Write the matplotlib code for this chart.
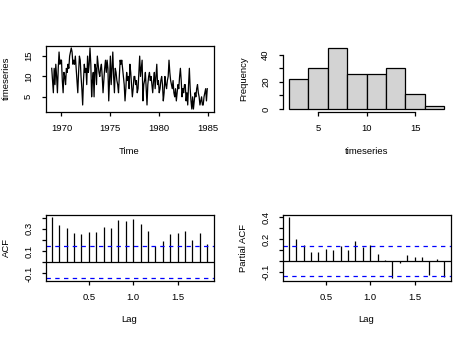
import matplotlib
matplotlib.use("Agg")
import matplotlib.pyplot as plt
import numpy as np

plt.rcParams['font.family'] = ['Liberation Sans', 'DejaVu Sans']
plt.rcParams['font.size'] = 6.8

# monthly series, Jan 1969 - Dec 1984
timeseries = [
    12, 9, 6, 12, 8, 13, 10, 6, 12, 16, 13, 14,
    14, 9, 6, 11, 10, 8, 12, 11, 13, 12, 15, 16,
    17, 16, 13, 14, 13, 15, 12, 9, 6, 11, 15, 14,
    10, 7, 3, 9, 13, 11, 12, 8, 15, 11, 13, 17,
    13, 5, 9, 11, 5, 13, 12, 8, 15, 13, 11, 10,
    12, 13, 10, 6, 9, 12, 14, 11, 14, 12, 4, 9,
    15, 8, 12, 16, 10, 6, 12, 11, 9, 8, 6, 10,
    14, 13, 14, 12, 10, 8, 4, 7, 11, 9, 10, 7,
    13, 11, 8, 5, 7, 10, 10, 8, 9, 6, 7, 11,
    15, 10, 12, 14, 4, 8, 9, 11, 7, 3, 8, 10,
    11, 9, 10, 8, 6, 9, 11, 7, 10, 13, 8, 9,
    6, 7, 9, 10, 8, 4, 6, 10, 8, 7, 9, 10,
    14, 11, 9, 8, 7, 9, 6, 5, 7, 4, 6, 8,
    7, 10, 12, 9, 5, 7, 6, 8, 8, 4, 6, 3,
    8, 12, 7, 4, 2, 5, 2, 4, 6, 5, 7, 8,
    6, 5, 3, 4, 5, 3, 3, 5, 6, 7, 4, 7,
]
start_year = 1969

hist_edges = [2, 4, 6, 8, 10, 12, 14, 16, 18]
hist_counts = [22, 30, 45, 26, 26, 30, 11, 2]

acf_vals = [0.405, 0.332, 0.303, 0.261, 0.249, 0.270, 0.273, 0.315, 0.306, 0.377, 0.371,
            0.383, 0.338, 0.282, 0.148, 0.193, 0.249, 0.261, 0.279, 0.199, 0.261, 0.163]
pacf_vals = [0.405, 0.205, 0.146, 0.081, 0.081, 0.112, 0.099, 0.137, 0.096, 0.186, 0.130,
             0.143, 0.065, 0.009, -0.158, -0.019, 0.059, 0.034, 0.037, -0.127, 0.022, -0.149]

LW = 0.9
W, H = 474, 338


def r_range(lo, hi):
    d = (hi - lo) * 0.04
    return lo - d, hi + d


def r_style(ax, box=True):
    for s in ax.spines.values():
        s.set_linewidth(LW)
        s.set_visible(box)
    ax.tick_params(direction='out', length=2.9, width=LW, pad=6, labelsize=6.8)
    ax.tick_params(axis='y', labelrotation=90)
    for lab in ax.get_yticklabels():
        lab.set_va('center')


def r_labels(ax, xlabel, ylabel):
    ax.set_xlabel(xlabel)
    ax.set_ylabel(ylabel)
    ax.xaxis.label.set_va('center')
    ax.yaxis.label.set_va('center')
    pos = ax.get_position()
    wpx, hpx = pos.width * W, pos.height * H
    ax.xaxis.set_label_coords(0.5, -39.5 / hpx)
    ax.yaxis.set_label_coords(-38.7 / wpx, 0.5)


fig = plt.figure(figsize=(4.74, 3.38), dpi=100)
lw_f, ht_f = 168 / W, 66 / H
ax1 = fig.add_axes([45.5 / W, (H - 111.5) / H, lw_f, ht_f])
ax2 = fig.add_axes([282.5 / W, (H - 111.5) / H, lw_f, ht_f])
ax3 = fig.add_axes([45.5 / W, (H - 280.5) / H, lw_f, ht_f])
ax4 = fig.add_axes([282.5 / W, (H - 280.5) / H, lw_f, ht_f])

# time series
n = len(timeseries)
t = start_year + np.arange(n) / 12
ax1.plot(t, timeseries, color='black', lw=LW)
ax1.set_xlim(*r_range(t[0], t[-1]))
ax1.set_ylim(*r_range(min(timeseries), max(timeseries)))
ax1.set_xticks([1970, 1975, 1980, 1985])
ax1.set_yticks([5, 10, 15])
r_style(ax1)
r_labels(ax1, 'Time', 'timeseries')

# histogram
ax2.bar(hist_edges[:-1], hist_counts, width=2, align='edge',
        color='#d3d3d3', edgecolor='black', linewidth=LW)
ax2.set_xlim(*r_range(hist_edges[0], hist_edges[-1]))
ax2.set_ylim(*r_range(0, max(hist_counts)))
ax2.set_xticks([5, 10, 15])
ax2.set_yticks([0, 10, 20, 30, 40])
ax2.set_yticklabels(['0', '', '20', '', '40'])
r_style(ax2, box=False)
ax2.spines['left'].set_visible(True)
ax2.spines['bottom'].set_visible(True)
ax2.spines['left'].set_bounds(0, 40)
ax2.spines['bottom'].set_bounds(5, 15)
r_labels(ax2, 'timeseries', 'Frequency')

# acf / pacf
ci = 1.96 / np.sqrt(n)
for ax, vals, ylab, ticks, labels in [
    (ax3, acf_vals, 'ACF', [-0.1, 0, 0.1, 0.2, 0.3, 0.4], ['-0.1', '', '0.1', '', '0.3', '']),
    (ax4, pacf_vals, 'Partial ACF', [-0.1, 0, 0.1, 0.2, 0.3, 0.4], ['-0.1', '', '', '0.2', '', '0.4']),
]:
    lags = np.arange(1, len(vals) + 1) / 12
    ax.vlines(lags, 0, vals, color='black', lw=LW)
    ax.axhline(0, color='black', lw=LW)
    ax.axhline(ci, color='blue', lw=LW, linestyle=(0, (3.5, 3.5)))
    ax.axhline(-ci, color='blue', lw=LW, linestyle=(0, (3.5, 3.5)))
    ax.set_xlim(*r_range(lags[0], lags[-1]))
    ax.set_ylim(*r_range(min(min(vals), -ci), max(max(vals), ci)))
    ax.set_xticks([0.5, 1.0, 1.5])
    ax.set_yticks(ticks)
    ax.set_yticklabels(labels)
    r_style(ax)
    r_labels(ax, 'Lag', ylab)

fig.savefig('out.png', dpi=100)
